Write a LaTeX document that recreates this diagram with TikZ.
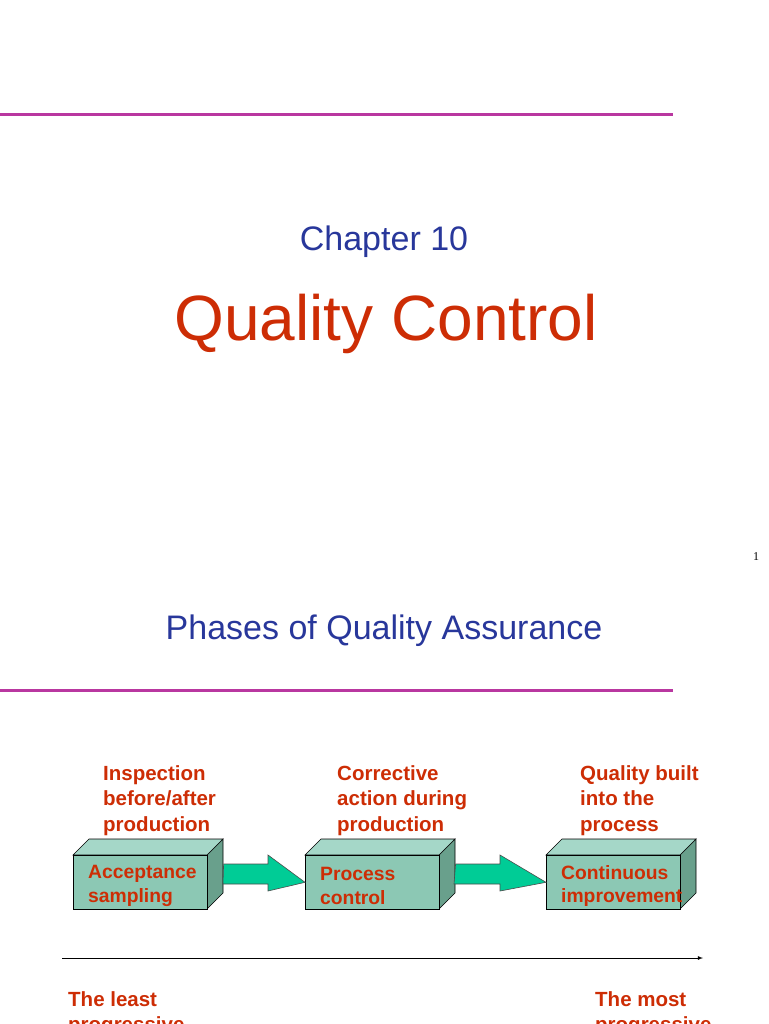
\documentclass[tikz,border=0pt]{standalone}
\usepackage{fontspec}
\setmainfont{Liberation Sans}
\newfontfamily\serifnum{Liberation Serif}
\definecolor{mag}{RGB}{185,55,160}
\definecolor{tblue}{RGB}{40,55,155}
\definecolor{tred}{RGB}{205,45,5}
\definecolor{front}{RGB}{140,200,180}
\definecolor{topc}{RGB}{165,215,200}
\definecolor{sidec}{RGB}{105,160,140}
\definecolor{arr}{RGB}{0,204,150}
\tikzset{
  rule/.style={mag,line width=3pt},
  lab/.style={anchor=north west,align=left,text=tred,font=\bfseries\fontsize{20.5}{25.5}\selectfont,inner sep=0pt},
  boxlab/.style={anchor=west,align=left,text=tred,font=\bfseries\fontsize{19.3}{23.5}\selectfont,inner sep=0pt},
  fat/.style={fill=arr,draw=black!70,line width=0.6pt},
}
\newcommand\cube[3]{% name, x-left, label
  \fill[sidec,draw=black,line width=0.6pt] (#2+134,855) -- (#2+150,839) -- (#2+150,893) -- (#2+134,909) -- cycle;
  \fill[topc,draw=black,line width=0.6pt] (#2,855) -- (#2+16,839) -- (#2+150,839) -- (#2+134,855) -- cycle;
  \node[draw=black,fill=front,line width=0.6pt,minimum width=134pt,minimum height=54pt,inner sep=0pt,anchor=north west] (#1) at (#2,855) {};
  \node[boxlab] (#1t) at (#2+15,886) {#3};
}
\begin{document}
\begin{tikzpicture}[x=1pt,y=-1pt]
\useasboundingbox[clip] (0,0) rectangle (768,1024);
\fill[white] (0,0) rectangle (768,1024);
\coordinate (r1a) at (0,115); \coordinate (r1b) at (673,115);
\draw[rule] (r1a) -- (r1b);
\node[text=tblue,font=\fontsize{34}{40}\selectfont] (ch) at (384,242) {Chapter 10};
\node[text=tred,font=\fontsize{64}{74}\selectfont] (qc) at (386,324) {Quality Control};
\node[font=\serifnum\fontsize{12}{14}\selectfont] (pg) at (756,557) {1};
\node[text=tblue,font=\fontsize{34}{40}\selectfont] (ph) at (384,631) {Phases of Quality Assurance};
\coordinate (r2a) at (0,690); \coordinate (r2b) at (673,690);
\draw[rule] (r2a) -- (r2b);
\node[lab] (l1) at (103,765) {Inspection\\before/after\\production};
\node[lab] (l2) at (337,765) {Corrective\\action during\\production};
\node[lab] (l3) at (580,765) {Quality built\\into the\\process};
\cube{b1}{73}{Acceptance\\sampling}
\cube{b2}{305}{Process\\control}
\cube{b3}{546}{Continuous\\improvement}
\draw[fat] (b1.north east |- 0,864) ++(16,0) -- (268,864) -- (268,855) -- (b2.west) -- (268,891) -- (268,884) -- (223,884) -- cycle;
\draw[fat] (b2.north east |- 0,864) ++(16,0) -- (500,864) -- (500,855) -- (b3.west) -- (500,891) -- (500,884) -- (454,884) -- cycle;
\coordinate (ax1) at (62,958); \coordinate (ax2) at (703,958);
\draw[-latex,line width=0.8pt] (ax1) -- (ax2);
\node[lab] (lo) at (68,991) {The least\\progressive};
\node[lab] (hi) at (595,991) {The most\\progressive};
\end{tikzpicture}
\end{document}
